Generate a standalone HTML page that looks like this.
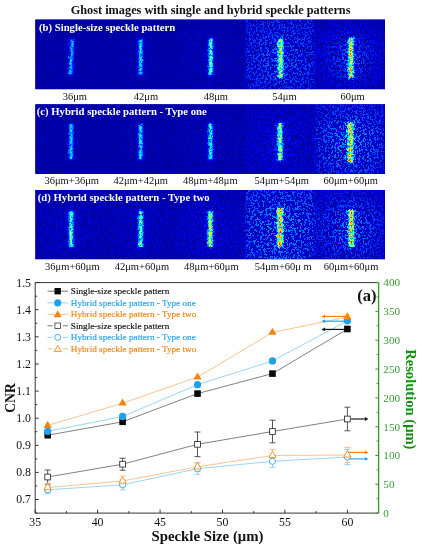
<!DOCTYPE html>
<html lang="en">
<head>
<meta charset="utf-8">
<title>Ghost images with single and hybrid speckle patterns</title>
<style>
html,body{margin:0;padding:0;background:#fff;}
body{width:422px;height:550px;overflow:hidden;}
svg{display:block;}
text{font-family:"Liberation Serif", "DejaVu Serif", serif;}
.b{font-weight:bold;}
.tl{font-size:10.5px;fill:#111;text-anchor:middle;}
.pl{font-size:10.7px;font-weight:bold;fill:#fff;}
.tk{font-size:11.8px;fill:#111;}
.lg{font-size:9.2px;stroke-width:0.15px;}
</style>
</head>
<body>
<svg width="422" height="550" viewBox="0 0 422 550">
<defs>
<filter id="jet" x="0" y="0" width="100%" height="100%" filterUnits="objectBoundingBox" color-interpolation-filters="sRGB">
  <feTurbulence type="fractalNoise" baseFrequency="0.43 0.37" numOctaves="2" seed="11" result="h0"/>
  <feTurbulence type="fractalNoise" baseFrequency="0.71 0.63" numOctaves="1" seed="23" result="g0"/>
  <feColorMatrix in="h0" type="matrix" values="1 0 0 0 0  0 1 0 0 0  0 0 1 0 0  0 0 0 0 1" result="hA"/>
  <feColorMatrix in="g0" type="matrix" values="1 0 0 0 0  0 1 0 0 0  0 0 1 0 0  0 0 0 0 1" result="gA"/>
  <feComposite in="hA" in2="gA" operator="arithmetic" k1="2" k2="0" k3="0" k4="0" result="hg"/>
  <feGaussianBlur in="hg" stdDeviation="0.3" result="hgb"/>
  <feGaussianBlur in="h0" stdDeviation="0.4" result="h1"/>
  <feColorMatrix in="h1" type="matrix" values="2.5 0 0 0 -0.75  0 2.6 0 0 -0.8  0 0 0 0 0  0 0 0 0 1" result="h2a"/>
  <feColorMatrix in="hgb" type="matrix" values="0 0 0 0 0  0 0 0 0 0  0 0 5 0 -2.85  0 0 0 0 1" result="h2b"/>
  <feComposite in="h2a" in2="h2b" operator="arithmetic" k1="0" k2="1" k3="1" k4="0" result="h2"/>
  <feTurbulence type="fractalNoise" baseFrequency="0.17" numOctaves="2" seed="5" result="l0"/>
  <feColorMatrix in="l0" type="matrix" values="2.5 0 0 0 -0.75  0 0 0 0 0  0 0 0 0 0  0 0 0 0 1" result="l1"/>
  <feColorMatrix in="h2" type="matrix" values="0.10 0 9.5 0 0.06  0 0.85 0.5 0 0.45  0 0 0 0 0  0 0 0 0 1" result="h3"/>
  <feComposite in="h3" in2="l1" operator="arithmetic" k1="0" k2="1" k3="0.2" k4="0" result="n2"/>
  <feGaussianBlur in="SourceGraphic" stdDeviation="0.85 0.7" result="src0"/>
  <feDisplacementMap in="src0" in2="h1" scale="2.4" xChannelSelector="B" yChannelSelector="A" result="src"/>
  <feComposite in="n2" in2="src" operator="arithmetic" k1="1" k2="0" k3="0" k4="0" result="m"/>
  <feColorMatrix in="m" type="matrix" values="1 1 0 0 0.029  1 1 0 0 0.029  1 1 0 0 0.029  0 0 0 0 1" result="gray"/>
  <feComponentTransfer in="gray" result="col">
    <feFuncR type="table" tableValues="0 0 0 0 .5 1 1 1 .5"/>
    <feFuncG type="table" tableValues="0 0 .5 1 1 1 .5 0 0"/>
    <feFuncB type="table" tableValues=".5 1 1 1 .5 0 0 0 0"/>
  </feComponentTransfer>
  <feGaussianBlur in="col" stdDeviation="0.36"/>
</filter>

<radialGradient id="g00" cx="0.5" cy="0.55" r="0.62"><stop offset="0.15" stop-color="rgb(9,0,0)"/><stop offset="1" stop-color="rgb(7,0,0)"/></radialGradient>
<radialGradient id="g01" cx="0.5" cy="0.55" r="0.62"><stop offset="0.15" stop-color="rgb(10,0,0)"/><stop offset="1" stop-color="rgb(7,0,0)"/></radialGradient>
<radialGradient id="g02" cx="0.5" cy="0.55" r="0.62"><stop offset="0.15" stop-color="rgb(14,0,0)"/><stop offset="1" stop-color="rgb(9,0,0)"/></radialGradient>
<radialGradient id="g03" cx="0.5" cy="0.55" r="0.62"><stop offset="0.15" stop-color="rgb(50,0,0)"/><stop offset="1" stop-color="rgb(36,0,0)"/></radialGradient>
<radialGradient id="g04" cx="0.5" cy="0.55" r="0.62"><stop offset="0.15" stop-color="rgb(46,0,0)"/><stop offset="1" stop-color="rgb(14,0,0)"/></radialGradient>
<clipPath id="cp0"><rect x="35.3" y="19.5" width="349.7" height="69.7"/></clipPath>
<radialGradient id="g10" cx="0.5" cy="0.55" r="0.62"><stop offset="0.15" stop-color="rgb(9,0,0)"/><stop offset="1" stop-color="rgb(7,0,0)"/></radialGradient>
<radialGradient id="g11" cx="0.5" cy="0.55" r="0.62"><stop offset="0.15" stop-color="rgb(10,0,0)"/><stop offset="1" stop-color="rgb(7,0,0)"/></radialGradient>
<radialGradient id="g12" cx="0.5" cy="0.55" r="0.62"><stop offset="0.15" stop-color="rgb(14,0,0)"/><stop offset="1" stop-color="rgb(9,0,0)"/></radialGradient>
<radialGradient id="g13" cx="0.5" cy="0.55" r="0.62"><stop offset="0.15" stop-color="rgb(30,0,0)"/><stop offset="1" stop-color="rgb(16,0,0)"/></radialGradient>
<radialGradient id="g14" cx="0.5" cy="0.55" r="0.62"><stop offset="0.15" stop-color="rgb(62,0,0)"/><stop offset="1" stop-color="rgb(34,0,0)"/></radialGradient>
<clipPath id="cp1"><rect x="35.3" y="104.2" width="349.7" height="69.8"/></clipPath>
<radialGradient id="g20" cx="0.5" cy="0.55" r="0.62"><stop offset="0.15" stop-color="rgb(20,0,0)"/><stop offset="1" stop-color="rgb(11,0,0)"/></radialGradient>
<radialGradient id="g21" cx="0.5" cy="0.55" r="0.62"><stop offset="0.15" stop-color="rgb(20,0,0)"/><stop offset="1" stop-color="rgb(11,0,0)"/></radialGradient>
<radialGradient id="g22" cx="0.5" cy="0.55" r="0.62"><stop offset="0.15" stop-color="rgb(26,0,0)"/><stop offset="1" stop-color="rgb(14,0,0)"/></radialGradient>
<radialGradient id="g23" cx="0.5" cy="0.55" r="0.62"><stop offset="0.15" stop-color="rgb(62,0,0)"/><stop offset="1" stop-color="rgb(44,0,0)"/></radialGradient>
<radialGradient id="g24" cx="0.5" cy="0.55" r="0.62"><stop offset="0.15" stop-color="rgb(56,0,0)"/><stop offset="1" stop-color="rgb(26,0,0)"/></radialGradient>
<clipPath id="cp2"><rect x="35.3" y="190.0" width="349.7" height="69.3"/></clipPath>
</defs>
<rect width="422" height="550" fill="#fff"/>
<text x="210.6" y="14.0" class="b" font-size="12.3" text-anchor="middle" fill="#111">Ghost images with single and hybrid speckle patterns</text>
<g clip-path="url(#cp0)">
<rect x="35.3" y="19.5" width="349.7" height="69.7" fill="#0404a8"/>
<g filter="url(#jet)">
<rect x="29.299999999999997" y="13.5" width="361.7" height="81.7" fill="rgb(8,0,0)"/>
<rect x="35.3" y="19.5" width="69.9" height="69.7" fill="url(#g00)"/>
<rect x="105.2" y="19.5" width="69.9" height="69.7" fill="url(#g01)"/>
<rect x="175.2" y="19.5" width="69.9" height="69.7" fill="url(#g02)"/>
<rect x="245.1" y="19.5" width="69.9" height="69.7" fill="url(#g03)"/>
<rect x="315.1" y="19.5" width="69.9" height="69.7" fill="url(#g04)"/>
<rect x="67.8" y="37.5" width="7.0" height="39.0" rx="2" fill="rgb(9,14,0)"/>
<rect x="69.8" y="39.5" width="3.0" height="35.0" fill="rgb(9,88,0)" transform="rotate(3.4 71.3 57.0)"/>
<rect x="137.1" y="37.0" width="7.0" height="39.5" rx="2" fill="rgb(10,14,0)"/>
<rect x="139.1" y="39.0" width="3.0" height="35.5" fill="rgb(10,98,0)"/>
<rect x="207.1" y="36.5" width="7.2" height="40.5" rx="2" fill="rgb(14,16,0)"/>
<rect x="209.1" y="38.5" width="3.2" height="36.5" fill="rgb(14,128,0)"/>
<rect x="276.7" y="36.5" width="7.6" height="43.0" rx="2" fill="rgb(50,20,0)"/>
<rect x="278.7" y="38.5" width="3.6" height="39.0" fill="rgb(50,140,0)"/>
<rect x="346.9" y="36.5" width="7.8" height="43.0" rx="2" fill="rgb(46,26,0)"/>
<rect x="348.9" y="38.5" width="3.8" height="39.0" fill="rgb(46,155,0)"/>
</g></g>
<text x="39.0" y="31.1" class="pl">(b) Single-size speckle pattern</text>
<g clip-path="url(#cp1)">
<rect x="35.3" y="104.2" width="349.7" height="69.8" fill="#0404a8"/>
<g filter="url(#jet)">
<rect x="29.299999999999997" y="98.2" width="361.7" height="81.8" fill="rgb(8,0,0)"/>
<rect x="35.3" y="104.2" width="69.9" height="69.8" fill="url(#g10)"/>
<rect x="105.2" y="104.2" width="69.9" height="69.8" fill="url(#g11)"/>
<rect x="175.2" y="104.2" width="69.9" height="69.8" fill="url(#g12)"/>
<rect x="245.1" y="104.2" width="69.9" height="69.8" fill="url(#g13)"/>
<rect x="315.1" y="104.2" width="69.9" height="69.8" fill="url(#g14)"/>
<rect x="67.6" y="122.2" width="7.0" height="39.0" rx="2" fill="rgb(9,14,0)"/>
<rect x="69.6" y="124.2" width="3.0" height="35.0" fill="rgb(9,95,0)"/>
<rect x="137.1" y="121.7" width="7.0" height="39.5" rx="2" fill="rgb(10,14,0)"/>
<rect x="139.1" y="123.7" width="3.0" height="35.5" fill="rgb(10,100,0)"/>
<rect x="206.9" y="121.7" width="7.2" height="39.5" rx="2" fill="rgb(14,16,0)"/>
<rect x="208.9" y="123.7" width="3.2" height="35.5" fill="rgb(14,110,0)"/>
<rect x="276.4" y="121.2" width="7.4" height="41.0" rx="2" fill="rgb(30,20,0)"/>
<rect x="278.4" y="123.2" width="3.4" height="37.0" fill="rgb(30,148,0)"/>
<rect x="346.3" y="120.2" width="8.2" height="44.0" rx="2" fill="rgb(62,28,0)"/>
<rect x="348.3" y="122.2" width="4.2" height="40.0" fill="rgb(62,150,0)"/>
</g></g>
<text x="36.7" y="114.7" class="pl">(c) Hybrid speckle pattern - Type one</text>
<g clip-path="url(#cp2)">
<rect x="35.3" y="190.0" width="349.7" height="69.3" fill="#0404a8"/>
<g filter="url(#jet)">
<rect x="29.299999999999997" y="184.0" width="361.7" height="81.3" fill="rgb(8,0,0)"/>
<rect x="35.3" y="190.0" width="69.9" height="69.3" fill="url(#g20)"/>
<rect x="105.2" y="190.0" width="69.9" height="69.3" fill="url(#g21)"/>
<rect x="175.2" y="190.0" width="69.9" height="69.3" fill="url(#g22)"/>
<rect x="245.1" y="190.0" width="69.9" height="69.3" fill="url(#g23)"/>
<rect x="315.1" y="190.0" width="69.9" height="69.3" fill="url(#g24)"/>
<rect x="67.6" y="209.5" width="7.0" height="39.5" rx="2" fill="rgb(20,20,0)"/>
<rect x="69.6" y="211.5" width="3.0" height="35.5" fill="rgb(20,135,0)"/>
<rect x="137.2" y="209.5" width="7.0" height="39.5" rx="2" fill="rgb(20,20,0)"/>
<rect x="139.2" y="211.5" width="3.0" height="35.5" fill="rgb(20,135,0)"/>
<rect x="206.6" y="209.5" width="7.4" height="39.5" rx="2" fill="rgb(26,22,0)"/>
<rect x="208.6" y="211.5" width="3.4" height="35.5" fill="rgb(26,158,0)"/>
<rect x="276.1" y="206.0" width="8.0" height="43.0" rx="2" fill="rgb(62,28,0)"/>
<rect x="278.1" y="208.0" width="4.0" height="39.0" fill="rgb(62,160,0)"/>
<rect x="347.3" y="208.0" width="7.8" height="40.5" rx="2" fill="rgb(56,28,0)"/>
<rect x="349.3" y="210.0" width="3.8" height="36.5" fill="rgb(56,165,0)"/>
</g></g>
<text x="37.8" y="201.4" class="pl">(d) Hybrid speckle pattern - Type two</text>
<text x="74.8" y="99.8" class="tl">36μm</text>
<text x="146.0" y="99.8" class="tl">42μm</text>
<text x="215.8" y="99.8" class="tl">48μm</text>
<text x="284.4" y="99.8" class="tl">54μm</text>
<text x="352.6" y="99.8" class="tl">60μm</text>
<text x="71.7" y="184.4" class="tl">36μm+36μm</text>
<text x="140.7" y="184.4" class="tl">42μm+42μm</text>
<text x="210.3" y="184.4" class="tl">48μm+48μm</text>
<text x="281.7" y="184.4" class="tl">54μm+54μm</text>
<text x="350.7" y="184.4" class="tl">60μm+60μm</text>
<text x="72.3" y="269.6" class="tl">36μm+60μm</text>
<text x="142.0" y="269.6" class="tl">42μm+60μm</text>
<text x="211.3" y="269.6" class="tl">48μm+60μm</text>
<text x="283.2" y="269.6" class="tl">54μm+60μ m</text>
<text x="351.1" y="269.6" class="tl">60μm+60μm</text>
<g fill="none" stroke="#2a2a2a" stroke-width="0.95">
<path d="M35.2 282.6V513.1H378.6M35.2 282.6H378.6"/>
<path d="M35.2 513.1v-3.5M97.6 513.1v-3.5M160.1 513.1v-3.5M222.5 513.1v-3.5M284.9 513.1v-3.5M347.4 513.1v-3.5M66.4 513.1v-2M128.9 513.1v-2M191.3 513.1v-2M253.7 513.1v-2M316.2 513.1v-2M378.6 513.1v-2M35.2 499.5h3.5M35.2 472.4h3.5M35.2 445.3h3.5M35.2 418.2h3.5M35.2 391.1h3.5M35.2 364.0h3.5M35.2 336.8h3.5M35.2 309.7h3.5M35.2 282.6h3.5M35.2 513.1h2M35.2 486.0h2M35.2 458.9h2M35.2 431.7h2M35.2 404.6h2M35.2 377.5h2M35.2 350.4h2M35.2 323.3h2M35.2 296.2h2"/>
</g>
<path d="M378.6 282.6V513.1" fill="none" stroke="#3a9b35" stroke-width="1.4"/>
<path d="M378.6 513.1h-3.2M378.6 484.3h-3.2M378.6 455.5h-3.2M378.6 426.7h-3.2M378.6 397.9h-3.2M378.6 369.0h-3.2M378.6 340.2h-3.2M378.6 311.4h-3.2M378.6 282.6h-3.2M378.6 498.7h-2M378.6 469.9h-2M378.6 441.1h-2M378.6 412.3h-2M378.6 383.4h-2M378.6 354.6h-2M378.6 325.8h-2M378.6 297.0h-2" fill="none" stroke="#3a9b35" stroke-width="1"/>
<text x="35.2" y="526.4" class="tk" text-anchor="middle">35</text>
<text x="97.6" y="526.4" class="tk" text-anchor="middle">40</text>
<text x="160.1" y="526.4" class="tk" text-anchor="middle">45</text>
<text x="222.5" y="526.4" class="tk" text-anchor="middle">50</text>
<text x="284.9" y="526.4" class="tk" text-anchor="middle">55</text>
<text x="347.4" y="526.4" class="tk" text-anchor="middle">60</text>
<text x="31" y="503.4" class="tk" text-anchor="end">0.7</text>
<text x="31" y="476.3" class="tk" text-anchor="end">0.8</text>
<text x="31" y="449.2" class="tk" text-anchor="end">0.9</text>
<text x="31" y="422.1" class="tk" text-anchor="end">1.0</text>
<text x="31" y="395.0" class="tk" text-anchor="end">1.1</text>
<text x="31" y="367.9" class="tk" text-anchor="end">1.2</text>
<text x="31" y="340.7" class="tk" text-anchor="end">1.3</text>
<text x="31" y="313.6" class="tk" text-anchor="end">1.4</text>
<text x="31" y="286.5" class="tk" text-anchor="end">1.5</text>
<text x="383.3" y="516.9" style="font-size:11.2px;fill:#3a9b35">0</text>
<text x="383.3" y="488.1" style="font-size:11.2px;fill:#3a9b35">50</text>
<text x="383.3" y="459.3" style="font-size:11.2px;fill:#3a9b35">100</text>
<text x="383.3" y="430.5" style="font-size:11.2px;fill:#3a9b35">150</text>
<text x="383.3" y="401.7" style="font-size:11.2px;fill:#3a9b35">200</text>
<text x="383.3" y="372.8" style="font-size:11.2px;fill:#3a9b35">250</text>
<text x="383.3" y="344.0" style="font-size:11.2px;fill:#3a9b35">300</text>
<text x="383.3" y="315.2" style="font-size:11.2px;fill:#3a9b35">350</text>
<text x="383.3" y="286.4" style="font-size:11.2px;fill:#3a9b35">400</text>
<text x="207.5" y="541" class="b" font-size="14.8" text-anchor="middle" fill="#111">Speckle Size (μm)</text>
<text transform="translate(15.3,398) rotate(-90)" class="b" font-size="13.6" text-anchor="middle" fill="#111">CNR</text>
<text transform="translate(406.3,399.3) rotate(90)" class="b" font-size="14.6" text-anchor="middle" fill="#128f12">Resolution (μm)</text>
<text x="366.8" y="301.4" class="b" font-size="16.5" text-anchor="middle" fill="#111">(a)</text>
<polyline points="47.7,435.2 122.6,421.8 197.5,393.6 272.5,373.6 347.4,329.0" fill="none" stroke="#6a6a6a" stroke-width="0.85"/>
<polyline points="47.7,431.3 122.6,416.5 197.5,384.7 272.5,360.9 347.4,320.8" fill="none" stroke="#86cff2" stroke-width="0.85"/>
<polyline points="47.7,425.5 122.6,403.2 197.5,377.1 272.5,332.4 347.4,317.0" fill="none" stroke="#f4ba7c" stroke-width="0.85"/>
<polyline points="47.7,477.0 122.6,464.2 197.5,444.3 272.5,431.5 347.4,419.0" fill="none" stroke="#6a6a6a" stroke-width="0.85"/>
<polyline points="47.7,489.8 122.6,484.8 197.5,468.7 272.5,461.3 347.4,457.0" fill="none" stroke="#86cff2" stroke-width="0.85"/>
<polyline points="47.7,487.6 122.6,481.0 197.5,466.8 272.5,455.5 347.4,455.0" fill="none" stroke="#f4ba7c" stroke-width="0.85"/>
<path d="M47.7 470.0V484.0M44.7 470.0h6M44.7 484.0h6M122.6 458.2V470.2M119.6 458.2h6M119.6 470.2h6M197.5 432.0V456.6M194.5 432.0h6M194.5 456.6h6M272.5 420.2V442.8M269.5 420.2h6M269.5 442.8h6M347.4 407.2V430.8M344.4 407.2h6M344.4 430.8h6" fill="none" stroke="#444" stroke-width="0.9"/>
<path d="M47.7 485.8V493.8M44.7 485.8h6M44.7 493.8h6M122.6 479.8V489.8M119.6 479.8h6M119.6 489.8h6M197.5 463.1V474.3M194.5 463.1h6M194.5 474.3h6M272.5 455.3V467.3M269.5 455.3h6M269.5 467.3h6M347.4 449.4V464.6M344.4 449.4h6M344.4 464.6h6" fill="none" stroke="#86cff2" stroke-width="0.9"/>
<path d="M47.7 483.6V491.6M44.7 483.6h6M44.7 491.6h6M122.6 476.0V486.0M119.6 476.0h6M119.6 486.0h6M197.5 462.3V471.3M194.5 462.3h6M194.5 471.3h6M272.5 449.5V461.5M269.5 449.5h6M269.5 461.5h6M347.4 447.5V462.5M344.4 447.5h6M344.4 462.5h6" fill="none" stroke="#f4ba7c" stroke-width="0.9"/>
<path d="M347.0 316.4H325.1" stroke="#f3840f" stroke-width="1.15" fill="none"/><path d="M321.5 316.4L325.1 314.5V318.3Z" fill="#f3840f"/>
<path d="M347.0 321.2H325.1" stroke="#22a0ec" stroke-width="1.15" fill="none"/><path d="M321.5 321.2L325.1 319.3V323.1Z" fill="#22a0ec"/>
<path d="M347.0 329.4H325.1" stroke="#111" stroke-width="1.15" fill="none"/><path d="M321.5 329.4L325.1 327.5V331.3Z" fill="#111"/>
<path d="M351.0 419.0H364.8" stroke="#111" stroke-width="1.15" fill="none"/><path d="M368.4 419.0L364.8 417.1V420.9Z" fill="#111"/>
<path d="M348.0 452.4H364.8" stroke="#f3840f" stroke-width="1.15" fill="none"/><path d="M368.4 452.4L364.8 450.5V454.3Z" fill="#f3840f"/>
<path d="M348.0 458.9H364.8" stroke="#22a0ec" stroke-width="1.15" fill="none"/><path d="M368.4 458.9L364.8 457.0V460.8Z" fill="#22a0ec"/>
<rect x="44.81" y="474.12" width="5.75" height="5.75" fill="#fff" stroke="#2b2b2b" stroke-width="0.85"/>
<rect x="119.74" y="461.32" width="5.75" height="5.75" fill="#fff" stroke="#2b2b2b" stroke-width="0.85"/>
<rect x="194.66" y="441.43" width="5.75" height="5.75" fill="#fff" stroke="#2b2b2b" stroke-width="0.85"/>
<rect x="269.58" y="428.62" width="5.75" height="5.75" fill="#fff" stroke="#2b2b2b" stroke-width="0.85"/>
<rect x="344.51" y="416.12" width="5.75" height="5.75" fill="#fff" stroke="#2b2b2b" stroke-width="0.85"/>
<circle cx="47.69" cy="489.80" r="3.08" fill="#fff" stroke="#22a0ec" stroke-width="0.85"/>
<circle cx="122.61" cy="484.80" r="3.08" fill="#fff" stroke="#22a0ec" stroke-width="0.85"/>
<circle cx="197.53" cy="468.70" r="3.08" fill="#fff" stroke="#22a0ec" stroke-width="0.85"/>
<circle cx="272.46" cy="461.30" r="3.08" fill="#fff" stroke="#22a0ec" stroke-width="0.85"/>
<circle cx="347.38" cy="457.00" r="3.08" fill="#fff" stroke="#22a0ec" stroke-width="0.85"/>
<path d="M47.69 483.40L51.29 489.70H44.09Z" fill="#fff" stroke="#f3840f" stroke-width="0.85" stroke-linejoin="miter"/>
<path d="M122.61 476.80L126.21 483.10H119.01Z" fill="#fff" stroke="#f3840f" stroke-width="0.85" stroke-linejoin="miter"/>
<path d="M197.53 462.60L201.13 468.90H193.93Z" fill="#fff" stroke="#f3840f" stroke-width="0.85" stroke-linejoin="miter"/>
<path d="M272.46 451.30L276.06 457.60H268.86Z" fill="#fff" stroke="#f3840f" stroke-width="0.85" stroke-linejoin="miter"/>
<path d="M347.38 450.80L350.98 457.10H343.78Z" fill="#fff" stroke="#f3840f" stroke-width="0.85" stroke-linejoin="miter"/>
<rect x="44.39" y="431.90" width="6.60" height="6.60" fill="#0a0a0a"/>
<rect x="119.31" y="418.50" width="6.60" height="6.60" fill="#0a0a0a"/>
<rect x="194.23" y="390.30" width="6.60" height="6.60" fill="#0a0a0a"/>
<rect x="269.16" y="370.30" width="6.60" height="6.60" fill="#0a0a0a"/>
<rect x="344.08" y="325.70" width="6.60" height="6.60" fill="#0a0a0a"/>
<circle cx="47.69" cy="431.30" r="3.65" fill="#22a0ec"/>
<circle cx="122.61" cy="416.50" r="3.65" fill="#22a0ec"/>
<circle cx="197.53" cy="384.70" r="3.65" fill="#22a0ec"/>
<circle cx="272.46" cy="360.90" r="3.65" fill="#22a0ec"/>
<circle cx="347.38" cy="320.80" r="3.65" fill="#22a0ec"/>
<path d="M47.69 420.80L51.84 427.90H43.54Z" fill="#f3840f"/>
<path d="M122.61 398.50L126.76 405.60H118.46Z" fill="#f3840f"/>
<path d="M197.53 372.40L201.68 379.50H193.38Z" fill="#f3840f"/>
<path d="M272.46 327.70L276.61 334.80H268.31Z" fill="#f3840f"/>
<path d="M347.38 312.30L351.53 319.40H343.23Z" fill="#f3840f"/>
<path d="M47.5 291.2H68" stroke="#6a6a6a" stroke-width="0.9" fill="none"/>
<rect x="54.50" y="288.00" width="6.40" height="6.40" fill="#0a0a0a"/>
<text x="70.8" y="294.2" class="lg" fill="#111" stroke="#111">Single-size speckle pattern</text>
<path d="M47.5 302.9H68" stroke="#86cff2" stroke-width="0.9" fill="none"/>
<circle cx="57.70" cy="302.90" r="3.54" fill="#22a0ec"/>
<text x="70.8" y="305.9" class="lg" fill="#22a0ec" stroke="#22a0ec">Hybrid speckle pattern - Type one</text>
<path d="M47.5 314.3H68" stroke="#f4ba7c" stroke-width="0.9" fill="none"/>
<path d="M57.70 310.34L61.73 317.23H53.67Z" fill="#f3840f"/>
<text x="70.8" y="317.3" class="lg" fill="#f3840f" stroke="#f3840f">Hybrid speckle pattern - Type two</text>
<path d="M47.5 325.8H52.6M62.8 325.8H68" stroke="#6a6a6a" stroke-width="0.9" fill="none"/>
<rect x="54.92" y="323.02" width="5.55" height="5.55" fill="#fff" stroke="#444" stroke-width="0.85"/>
<text x="70.8" y="328.8" class="lg" fill="#111" stroke="#111">Single-size speckle pattern</text>
<path d="M47.5 337.4H52.6M62.8 337.4H68" stroke="#86cff2" stroke-width="0.9" fill="none"/>
<circle cx="57.70" cy="337.40" r="2.97" fill="#fff" stroke="#22a0ec" stroke-width="0.85"/>
<text x="70.8" y="340.4" class="lg" fill="#22a0ec" stroke="#22a0ec">Hybrid speckle pattern - Type one</text>
<path d="M47.5 348.8H52.6M62.8 348.8H68" stroke="#f4ba7c" stroke-width="0.9" fill="none"/>
<path d="M57.70 345.33L61.19 351.44H54.21Z" fill="#fff" stroke="#f3840f" stroke-width="0.85" stroke-linejoin="miter"/>
<text x="70.8" y="351.8" class="lg" fill="#f3840f" stroke="#f3840f">Hybrid speckle pattern - Type two</text>
</svg>
</body>
</html>
